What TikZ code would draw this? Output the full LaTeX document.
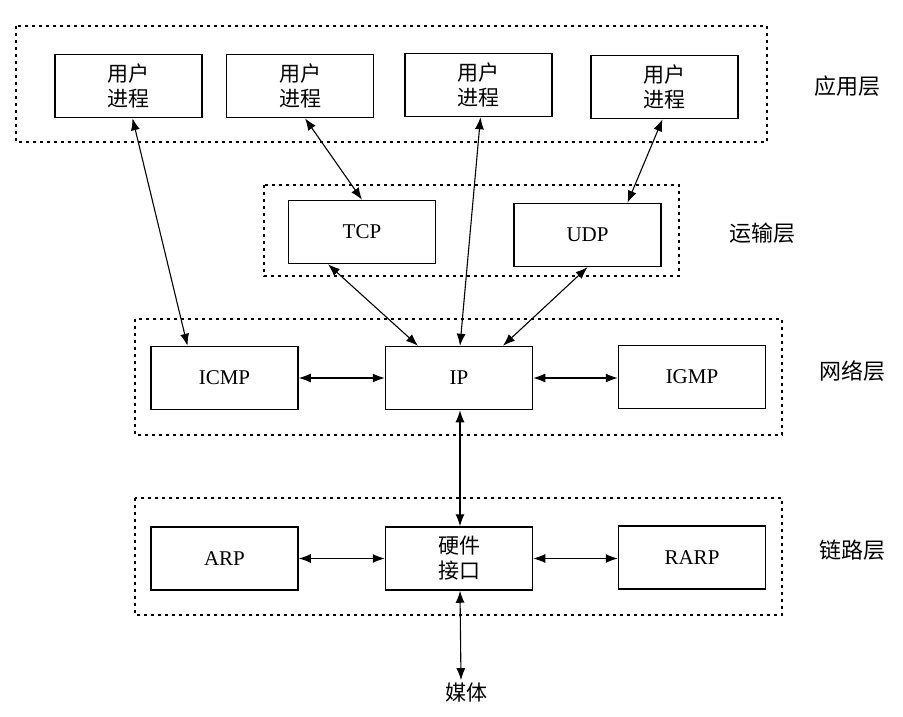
\documentclass[tikz,border=0pt]{standalone}
\usepackage{fontspec}
\setmainfont{Liberation Serif}
\newfontfamily\cjk{Noto Sans CJK SC}
\usepackage{tikz}
\usetikzlibrary{arrows.meta}
\tikzset{>={Latex[length=12pt,width=9pt]}}
\tikzset{
  procbox/.style={draw, line width=1.5pt, minimum width=147pt, minimum height=63pt, inner sep=0pt, align=center, font=\fontsize{21}{25}\selectfont},
  layerbox/.style={line width=1.2pt, dash pattern=on 3pt off 4pt},
  layername/.style={font=\cjk\fontsize{22}{24}\selectfont},
  link/.style={<->, line width=1.1pt}
}

\begin{document}
\begin{tikzpicture}[x=1pt, y=-1pt]
      \useasboundingbox (0,0) rectangle (903,717);
      % layer frames
      \draw[layerbox] (16,26) rectangle (767,142);
      \draw[layerbox] (264,185) rectangle (679,276);
      \draw[layerbox] (135,319) rectangle (782,435);
      \draw[layerbox] (135,498) rectangle (782,615);
      \node at (847,86) [layername] (app) {应用层};
      \node at (762,233) [layername] (trans) {运输层};
      \node at (852,371) [layername] (net) {网络层};
      \node at (852,550) [layername] (lnk) {链路层};
      % boxes
      \node at (128.5,86) [procbox] (user1) {\cjk 用户\\\cjk 进程};
      \node at (300,86) [procbox] (user2) {\cjk 用户\\\cjk 进程};
      \node at (478.5,85) [procbox] (user3) {\cjk 用户\\\cjk 进程};
      \node at (664.5,87) [procbox] (user4) {\cjk 用户\\\cjk 进程};
      \node at (362,232) [procbox] (tcp) {TCP};
      \node at (587.5,235) [procbox] (udp) {UDP};
      \node at (224.5,378) [procbox] (icmp) {ICMP};
      \node at (459,378) [procbox] (ip) {IP};
      \node at (692,377) [procbox] (igmp) {IGMP};
      \node at (224.5,558.5) [procbox] (arp) {ARP};
      \node at (459,558.5) [procbox] (hw) {\cjk 硬件\\\cjk 接口};
      \node at (692,557.5) [procbox] (rarp) {RARP};
      \node at (466,693) [font=\cjk\fontsize{21}{24}\selectfont, inner sep=3pt] (media) {媒体};
      % arrows
      \draw[link] ([xshift=4pt]user1.south) -- ([xshift=-37pt]icmp.north);
      \draw[link] ([xshift=5pt]user2.south) -- (tcp.north);
      \draw[link] ([xshift=-34pt]tcp.south) -- ([xshift=-41pt]ip.north);
      \draw[link] ([xshift=2pt]user3.south) -- ([xshift=1pt]ip.north);
      \draw[link] ([xshift=-2pt]user4.south) -- ([xshift=40pt]udp.north);
      \draw[link] (udp.south) -- ([xshift=44pt]ip.north);
      \draw[link] (icmp.east) -- (ip.west);
      \draw[link] (ip.east) -- (igmp.west |- ip.east);
      \draw[link] ([xshift=1pt]ip.south) -- ([xshift=1pt]hw.north);
      \draw[link] (arp.east) -- (hw.west);
      \draw[link] (hw.east) -- (rarp.west |- hw.east);
      \draw[link] ([xshift=1pt]hw.south) -- ([xshift=-5pt]media.north);
\end{tikzpicture}
\end{document}
